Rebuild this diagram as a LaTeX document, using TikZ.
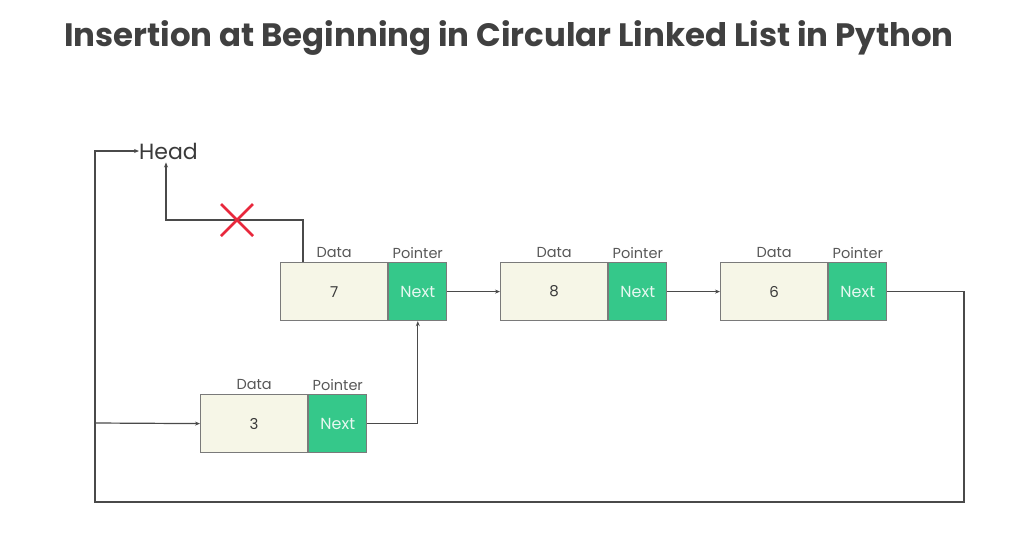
\documentclass[tikz,border=0pt]{standalone}
\usepackage{fontspec}
\setmainfont{Poppins}
\usetikzlibrary{arrows.meta}
\definecolor{titlec}{HTML}{404040}
\definecolor{linec}{HTML}{4A4A4A}
\definecolor{boxline}{HTML}{7A7A7A}
\definecolor{datafill}{HTML}{F6F6E7}
\definecolor{nextfill}{HTML}{35C88A}
\definecolor{crossc}{HTML}{E8283C}
\definecolor{txtc}{HTML}{3A3A3A}
\tikzset{
  datab/.style={draw=boxline, line width=1.2pt, fill=datafill, minimum width=107pt, minimum height=58pt, inner sep=0pt, anchor=north west, font=\fontsize{15}{15}\selectfont, text=txtc},
  nextb/.style={draw=boxline, line width=1.2pt, fill=nextfill, minimum width=58pt, minimum height=58pt, inner sep=0pt, anchor=west, font=\fontsize{16}{16}\selectfont, text=white!88!nextfill},
  lbl/.style={anchor=south, inner sep=0pt, font=\fontsize{14.5}{14.5}\selectfont, text=txtc!85!white},
  conn/.style={draw=linec, line width=1.2pt},
  arr/.style={conn, -{Stealth[length=5pt,width=4pt]}},
}
\begin{document}
\begin{tikzpicture}[x=1pt,y=-1pt]
\useasboundingbox (0,0) rectangle (1024,557);
\node[font=\fontsize{32.4}{32.4}\selectfont\bfseries, text=titlec] (title) at (509,38) {Insertion at Beginning in Circular Linked List in Python};
% nodes
\node[datab] (d7) at (280,262) {7};
\node[nextb] (n7) at (d7.east) {Next};
\node[datab] (d8) at (500,262) {8};
\node[nextb] (n8) at (d8.east) {Next};
\node[datab] (d6) at (720,262) {6};
\node[nextb] (n6) at (d6.east) {Next};
\node[datab] (d3) at (200,394) {3};
\node[nextb] (n3) at (d3.east) {Next};
\foreach \d/\n in {d7/n7,d8/n8,d6/n6,d3/n3}{
  \node[lbl] at ([yshift=4pt]\d.north) {Data};
  \node[lbl] at ([yshift=3pt]\n.north) {Pointer};
}
\node[inner sep=0pt, anchor=west, font=\fontsize{22}{22}\selectfont, text=txtc] (head) at (139,151) {Head};
% connectors
\draw[arr] (n7.east) -- (d8.west);
\draw[arr] (n8.east) -- (d6.west);
\coordinate (rc) at (964,502);
\coordinate (lc) at (95,151);
\draw[arr] (n6.east) -| (rc) -| (lc) -- (head.west);
\coordinate (tap) at (95,423);
\draw[arr] (tap) -- (d3.west);
\draw[arr] (n3.east) -| (n7.south);
\coordinate (old) at (303,262);
\coordinate (oldbend) at (166,220);
\draw[arr] (old) |- (oldbend) -- ([yshift=-3pt]oldbend |- head.south);
% red cross
\coordinate (x) at (237,220);
\draw[crossc, line width=2.6pt] ([shift={(-16pt,16pt)}]x) -- ([shift={(16pt,-16pt)}]x)
  ([shift={(-16pt,-16pt)}]x) -- ([shift={(16pt,16pt)}]x);
\end{tikzpicture}
\end{document}
